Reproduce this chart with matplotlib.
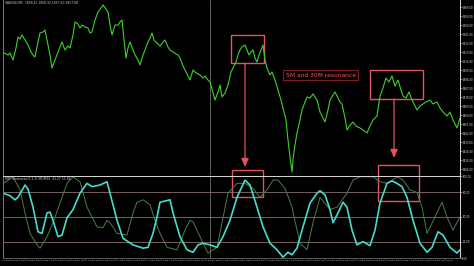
import matplotlib
matplotlib.use("Agg")
import matplotlib.pyplot as plt
from matplotlib.patches import Rectangle, ConnectionPatch

# price (close), x = bar position
price_bar = [3, 6, 8, 10, 13, 16, 18, 20, 22, 25, 28, 31, 33, 35, 38, 40, 43, 45, 48, 50,
             52, 55, 58, 60, 62, 65, 68, 70, 73, 75, 78, 80, 82, 85, 88, 90, 92, 95, 98, 101,
             103, 106, 108, 110, 112, 115, 118, 120, 122, 124, 126, 128, 130, 133, 135, 138, 140, 143, 145, 148,
             150, 152, 154, 156, 158, 160, 163, 165, 168, 170, 173, 176, 178, 180, 183, 185, 188, 190, 193, 195,
             198, 200, 203, 205, 208, 210, 213, 215, 218, 220, 222, 225, 228, 231, 233, 236, 238, 240, 242, 245,
             247, 249, 251, 253, 255, 257, 259, 261, 263, 265, 267, 270, 272, 275, 278, 281, 284, 286, 288, 290,
             292, 293, 295, 297, 300, 302, 305, 307, 310, 313, 317, 320, 323, 325, 328, 330, 333, 335, 338, 340,
             342, 345, 347, 350, 353, 356, 360, 363, 367, 370, 373, 377, 380, 383, 386, 389, 392, 395, 398, 401,
             403, 406, 409, 412, 415, 417, 420, 423, 426, 430, 433, 437, 440, 443, 447, 450, 453, 457, 460]
price_close = [1923, 1921, 1920, 1922, 1915, 1927, 1938, 1936, 1940, 1935, 1930, 1923, 1920, 1918, 1933, 1942, 1943, 1945, 1930, 1920,
               1907, 1915, 1923, 1928, 1933, 1925, 1929, 1927, 1940, 1953, 1951, 1947, 1950, 1948, 1947, 1942, 1943, 1955, 1963, 1967,
               1970, 1966, 1963, 1950, 1940, 1950, 1950, 1953, 1955, 1935, 1917, 1927, 1933, 1925, 1920, 1915, 1910, 1920, 1925, 1933,
               1937, 1942, 1935, 1933, 1931, 1929, 1933, 1935, 1928, 1925, 1923, 1921, 1920, 1917, 1909, 1905, 1899, 1895, 1905, 1903,
               1901, 1900, 1897, 1899, 1895, 1893, 1882, 1875, 1883, 1890, 1878, 1882, 1890, 1903, 1907, 1913, 1920, 1925, 1928, 1930,
               1925, 1920, 1923, 1925, 1917, 1913, 1920, 1925, 1930, 1915, 1907, 1900, 1903, 1895, 1885, 1875, 1863, 1855, 1835, 1818,
               1803, 1815, 1830, 1842, 1855, 1865, 1873, 1878, 1877, 1881, 1875, 1863, 1857, 1853, 1865, 1875, 1880, 1883, 1877, 1873,
               1871, 1857, 1845, 1850, 1853, 1849, 1847, 1845, 1842, 1849, 1855, 1859, 1879, 1887, 1897, 1893, 1899, 1889, 1895, 1885,
               1879, 1877, 1883, 1875, 1869, 1865, 1869, 1871, 1873, 1875, 1871, 1873, 1867, 1863, 1859, 1863, 1855, 1847, 1857]

# oscillator, fast line (cyan)
fast_bar = [3, 10, 15, 18, 25, 28, 33, 38, 42, 47, 50, 53, 58, 62, 67, 73, 80, 87, 92, 100,
            107, 110, 117, 123, 133, 143, 148, 153, 157, 160, 170, 173, 180, 187, 193, 198, 203, 210, 217, 223,
            230, 237, 245, 250, 257, 263, 270, 277, 283, 288, 292, 297, 303, 310, 317, 320, 325, 330, 333, 338,
            343, 347, 352, 357, 363, 370, 375, 380, 387, 392, 397, 402, 407, 413, 420, 427, 432, 438, 443, 450,
            457, 460]
fast_val = [79, 76, 71, 74, 89, 84, 62, 32, 30, 55, 56, 46, 26, 28, 49, 59, 79, 91, 87, 89,
            93, 79, 46, 24, 16, 12, 13, 30, 50, 68, 71, 55, 26, 10, 7, 16, 18, 16, 13, 26,
            46, 74, 95, 89, 62, 38, 18, 10, 1, 7, 4, 12, 38, 67, 79, 82, 77, 59, 43, 55,
            68, 62, 34, 16, 20, 15, 34, 67, 91, 94, 91, 87, 74, 46, 18, 7, 13, 32, 28, 13,
            6, 10]

# oscillator, slow line (dark green)
slow_bar = [3, 13, 20, 25, 30, 37, 40, 47, 53, 60, 67, 73, 80, 87, 97, 103, 107, 110, 117, 127,
            133, 137, 143, 150, 155, 160, 167, 177, 185, 190, 193, 200, 208, 217, 222, 228, 237, 245, 253, 260,
            267, 273, 278, 285, 292, 297, 300, 307, 313, 320, 330, 337, 347, 353, 360, 373, 380, 387, 397, 403,
            410, 417, 422, 427, 435, 442, 447, 453, 460]
slow_val = [91, 99, 83, 55, 30, 16, 12, 26, 43, 67, 91, 99, 93, 62, 38, 37, 46, 43, 30, 28,
            55, 68, 71, 65, 46, 30, 13, 10, 34, 46, 44, 26, 6, 13, 43, 79, 91, 91, 85, 74,
            83, 95, 95, 85, 62, 34, 18, 10, 43, 74, 59, 62, 79, 95, 99, 99, 93, 91, 99, 95,
            83, 80, 62, 30, 50, 68, 50, 34, 50]

levels = [80, 50, 20]
price_ticks = [1968, 1959, 1950, 1941, 1932, 1923, 1914, 1905, 1896, 1887, 1878, 1869,
               1860, 1851, 1842, 1833, 1824, 1815, 1806]
osc_ticks = [100, 80, 50, 20, 0]
time_labels = ["15 Dec 2020", "15 Dec 08:40", "15 Dec 09:20", "15 Dec 10:00", "15 Dec 10:40",
               "15 Dec 11:20", "15 Dec 12:00", "15 Dec 12:40", "15 Dec 13:20", "15 Dec 14:00",
               "15 Dec 14:40", "15 Dec 15:20", "15 Dec 16:00", "15 Dec 16:40", "15 Dec 17:20",
               "15 Dec 18:00", "15 Dec 18:40", "15 Dec 19:20", "15 Dec 20:00", "15 Dec 20:40",
               "15 Dec 21:20", "15 Dec 22:00", "15 Dec 22:40", "15 Dec 23:20", "16 Dec 00:00",
               "16 Dec 00:40", "16 Dec 01:20", "16 Dec 02:00", "16 Dec 02:40", "16 Dec 03:20"]

RED = '#e2545c'
W, H = 474, 266

fig = plt.figure(figsize=(W / 100, H / 100), dpi=100, facecolor='black')
ax_top = fig.add_axes([3 / W, (H - 175) / H, 457 / W, 175 / H])
ax_bot = fig.add_axes([3 / W, (H - 258) / H, 457 / W, 82 / H])

for ax in (ax_top, ax_bot):
    ax.set_facecolor('black')
    ax.set_xlim(3, 460)
    ax.yaxis.tick_right()
    ax.tick_params(axis='y', colors='#d8d8d8', labelsize=1.9, length=1.2, width=0.4, pad=0.5)
    ax.spines['left'].set_color('#7a7a7a')
    ax.spines['right'].set_color('#d8d8d8')
    for s in ax.spines.values():
        s.set_linewidth(0.7)
    ax.axvline(210, color='#6e6e6e', lw=0.6)

# top panel: price
ax_top.plot(price_bar, price_close, color='#3fcf2e', lw=0.8)
ax_top.set_ylim(1800, 1975)
ax_top.set_yticks(price_ticks)
ax_top.set_yticklabels([f"{t:.2f}" for t in price_ticks])
ax_top.set_xticks([])
ax_top.spines['top'].set_visible(False)
ax_top.spines['bottom'].set_visible(False)
ax_top.text(0.004, 0.995, "XAUUSD,M5  1858.41 1858.92 1857.60 1857.88", transform=ax_top.transAxes,
            fontsize=2.2, color='#d0d0d0', va='top', ha='left')

# bottom panel: oscillator
for lv in levels:
    ax_bot.axhline(lv, color='#8a6e6e', lw=0.6)
ax_bot.plot(slow_bar, slow_val, color='#4c7c4a', lw=0.7)
ax_bot.plot(fast_bar, fast_val, color='#47dccb', lw=1.2)
ax_bot.set_ylim(0, 100)
ax_bot.set_yticks(osc_ticks)
ax_bot.set_yticklabels([f"{t:.2f}" for t in osc_ticks])
ax_bot.spines['top'].set_color('#d8d8d8')
ax_bot.spines['bottom'].set_color('#5a5a5a')
ax_bot.set_xticks(range(10, 10 + 15 * len(time_labels), 15))
ax_bot.set_xticklabels(time_labels)
ax_bot.tick_params(axis='x', colors='#cfcfcf', labelsize=1.75, length=1.0, width=0.4, pad=0.6)
ax_bot.text(0.004, 0.985, "MTF Stochastic(5,3,3) M5/M30  41.27 55.84", transform=ax_bot.transAxes,
            fontsize=2.2, color='#d0d0d0', va='top', ha='left')

# highlight boxes
ax_top.add_patch(Rectangle((231, 1912), 33, 28, fill=False, ec=RED, lw=1.0))
ax_top.add_patch(Rectangle((370, 1876), 53, 29, fill=False, ec=RED, lw=1.0))
ax_bot.add_patch(Rectangle((232, 74), 31, 33, fill=False, ec=RED, lw=1.0, clip_on=False))
ax_bot.add_patch(Rectangle((378, 70), 41, 43, fill=False, ec=RED, lw=1.0, clip_on=False))

# arrows from price to oscillator
for xa, ya, yb in [(245, 1912, 111), (394, 1876, 122)]:
    con = ConnectionPatch(xyA=(xa, ya), coordsA=ax_top.transData,
                          xyB=(xa, yb), coordsB=ax_bot.transData,
                          arrowstyle='-|>,head_length=0.5,head_width=0.22', color=RED, lw=0.9)
    fig.add_artist(con)

ax_top.text(320.5, 1900, "5M and 30M resonance", fontsize=4.3, color='#e85a5a', ha='center', va='center',
            bbox=dict(boxstyle='square,pad=0.45', fc='#0a0000', ec='#7a1e1e', lw=0.8))

fig.savefig('out.png', dpi=100, facecolor='black')
